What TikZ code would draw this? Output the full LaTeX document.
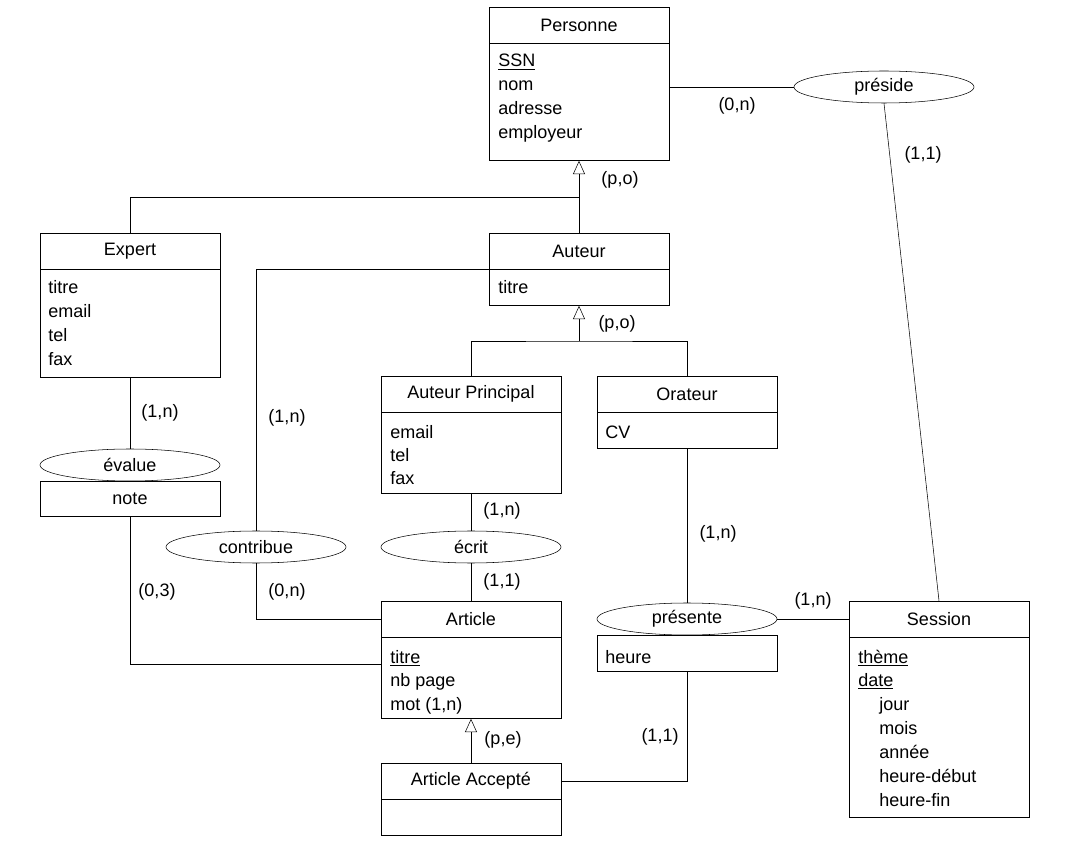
\documentclass[tikz,border=0pt]{standalone}
\usepackage{fontspec}
\setmainfont{Liberation Sans}
\usetikzlibrary{positioning, arrows.meta, shapes.geometric}

\begin{document}
\begin{tikzpicture}[
  x=0.75pt, y=-0.75pt,
  every node/.style={font=\fontsize{13.5}{16}\selectfont},
  title/.style={draw, minimum width=135pt, minimum height=27pt, inner sep=0pt},
  attrs/.style={draw, minimum width=135pt, inner sep=0pt, anchor=north},
  rel/.style={draw, ellipse, minimum width=135pt, minimum height=24pt, inner sep=0pt},
  att/.style={anchor=base west, inner sep=0pt},
  card/.style={inner sep=0pt},
  line/.style={thin},
  isa/.style={-{Triangle[open, length=10pt, width=9pt]}, thin},
]
  \useasboundingbox (0,0) rectangle (1068,855);

  % Entities
  \node[title] (pers) at (579,25) {Personne};
  \node[attrs, minimum height=87.75pt] (persA) at (pers.south) {};
  \node[att] at (498,67) {\underline{SSN}};
  \node[att] at (498,91) {nom};
  \node[att] at (498,115) {adresse};
  \node[att] at (498,139) {employeur};

  \node[title] (exp) at (130,251) {Expert};
  \node[attrs, minimum height=81pt] (expA) at (exp.south) {};
  \foreach \t [count=\i from 0] in {titre, email, tel, fax}
    \node[att] at (48,294+24*\i) {\t};

  \node[title] (aut) at (579,251) {Auteur};
  \node[attrs, minimum height=27pt] (autA) at (aut.south) {};
  \node[att] at (498,294) {titre};

  \node[title] (ap) at (471,394) {Auteur Principal};
  \node[attrs, minimum height=60.75pt] (apA) at (ap.south) {};
  \foreach \t [count=\i from 0] in {email, tel, fax}
    \node[att] at (390,439+23*\i) {\t};

  \node[title] (ora) at (687,394) {Orateur};
  \node[attrs, minimum height=27pt] (oraA) at (ora.south) {};
  \node[att] at (605,439) {CV};

  \node[title] (art) at (471,619) {Article};
  \node[attrs, minimum height=60.75pt] (artA) at (art.south) {};
  \node[att] at (390,663) {\underline{titre}};
  \node[att] at (390,686) {nb page};
  \node[att] at (390,710) {mot (1,n)};

  \node[title] (acc) at (471,781) {Article Accepté};
  \node[attrs, minimum height=27pt] (accA) at (acc.south) {};

  \node[title] (ses) at (939,619) {Session};
  \node[attrs, minimum height=135pt] (sesA) at (ses.south) {};
  \node[att] at (858,663) {\underline{thème}};
  \node[att] at (858,686) {\underline{date}};
  \foreach \t [count=\i from 0] in {jour, mois, année, heure-début, heure-fin}
    \node[att] at (879,710+24*\i) {\t};

  % Relationships
  \node[rel] (pre) at (884,87) {préside};
  \node[rel] (eva) at (130,465) {évalue};
  \node[title, minimum height=26.25pt, anchor=north] (note) at (eva.south) {note};
  \node[rel] (con) at (256,547) {contribue};
  \node[rel] (ecr) at (471,547) {écrit};
  \node[rel] (prs) at (687,619) {présente};
  \node[title, minimum height=27pt, anchor=north] (heu) at (prs.south) {};
  \node[att] at (605,663) {heure};

  % Hierarchies
  \coordinate (h1) at (579,197);
  \draw[isa] (h1) -- (persA.south);
  \draw[line] (exp.north) |- (h1) -| (aut.north);
  \coordinate (h2) at (579,341);
  \draw[isa] (h2) -- (autA.south);
  \draw[line] (ap.north) |- (h2) -| (ora.north);
  \draw[isa] (acc.north) -- (artA.south);

  % Links
  \draw[line] (persA.east |- pre) -- (pre.west);
  \draw[line] (pre.south) -- (ses.north);
  \draw[line] (expA.south) -- (eva.north);
  \draw[line] (note.south) |- (artA.west |- 0,664);
  \draw[line] (aut.south west) -| (con.north);
  \draw[line] (con.south) |- (art.west);
  \draw[line] (apA.south) -- (ecr.north);
  \draw[line] (ecr.south) -- (art.north);
  \draw[line] (oraA.south) -- (prs.north);
  \draw[line] (prs.east) -- (ses.west);
  \draw[line] (heu.south) |- (acc.east);

  % Cardinalities
  \node[card] at (737,106) {(0,n)};
  \node[card] at (923,155) {(1,1)};
  \node[card] at (620,180) {(p,o)};
  \node[card] at (617,324) {(p,o)};
  \node[card] at (160,413) {(1,n)};
  \node[card] at (157,592) {(0,3)};
  \node[card] at (287,418) {(1,n)};
  \node[card] at (287,592) {(0,n)};
  \node[card] at (502,511) {(1,n)};
  \node[card] at (502,582) {(1,1)};
  \node[card] at (718,534) {(1,n)};
  \node[card] at (813,601) {(1,n)};
  \node[card] at (660,737) {(1,1)};
  \node[card] at (503,740) {(p,e)};
\end{tikzpicture}
\end{document}
